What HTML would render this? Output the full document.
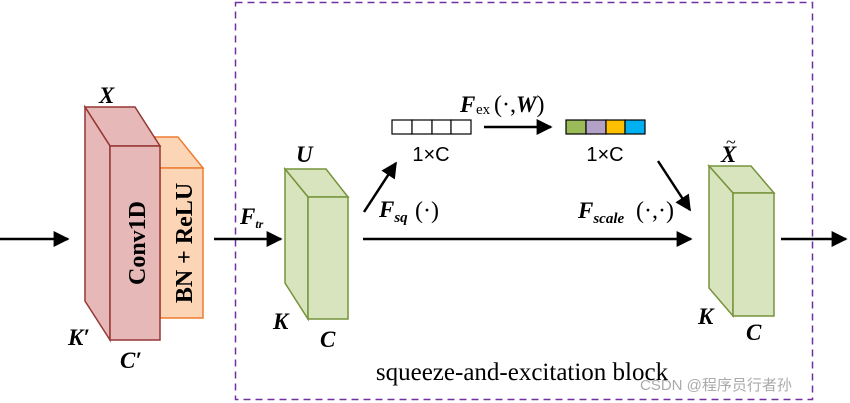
<!DOCTYPE html>
<html><head><meta charset="utf-8"><style>html,body{margin:0;padding:0;background:#fff}svg{display:block}</style></head>
<body>
<svg width="850" height="403" viewBox="0 0 850 403" xmlns="http://www.w3.org/2000/svg" font-family="Liberation Serif, serif">
<defs>
<marker id="b" viewBox="0 0 10 10" markerWidth="18" markerHeight="16" refX="9" refY="5" orient="auto" markerUnits="userSpaceOnUse"><path d="M0,0 L10,5 L0,10 Z" fill="#000"/></marker></defs>
<rect x="235.5" y="2.5" width="577" height="397" fill="none" stroke="#7030a0" stroke-width="1.5" stroke-dasharray="7,5"/>
<polygon points="155,137 178,137 203,168 160,168" fill="#fbd5b5" stroke="#ed7d31" stroke-width="1.5"/>
<rect x="160" y="168" width="43" height="150" fill="#fbd5b5" stroke="#ed7d31" stroke-width="1.5"/>
<polygon points="85,107 135,107 160,146 110,146" fill="#e6b8b7" stroke="#953735" stroke-width="1.5"/>
<polygon points="85,107 110,146 110,340 85,301" fill="#e6b8b7" stroke="#953735" stroke-width="1.5"/>
<rect x="110" y="146" width="50" height="194" fill="#e6b8b7" stroke="#953735" stroke-width="1.5"/>
<text transform="translate(145,243) rotate(-90)" text-anchor="middle" font-size="24" font-weight="bold">Conv1D</text>
<text transform="translate(192,243) rotate(-90)" text-anchor="middle" font-size="24" font-weight="bold">BN + ReLU</text>
<polygon points="285,169 326,169 348,197 308,197" fill="#d7e4bd" stroke="#77933c" stroke-width="1.5"/>
<polygon points="285,169 308,197 308,319 285,283" fill="#d7e4bd" stroke="#77933c" stroke-width="1.5"/>
<rect x="308" y="197" width="40" height="122" fill="#d7e4bd" stroke="#77933c" stroke-width="1.5"/>
<polygon points="709,166 751,166 774,193 733,193" fill="#d7e4bd" stroke="#77933c" stroke-width="1.5"/>
<polygon points="709,166 733,193 733,316 709,288" fill="#d7e4bd" stroke="#77933c" stroke-width="1.5"/>
<rect x="733" y="193" width="41" height="123" fill="#d7e4bd" stroke="#77933c" stroke-width="1.5"/>
<g stroke="#000" stroke-width="1.2">
<rect x="392" y="120" width="20" height="14" fill="#fff"/><rect x="412" y="120" width="20" height="14" fill="#fff"/><rect x="432" y="120" width="19" height="14" fill="#fff"/><rect x="451" y="120" width="20" height="14" fill="#fff"/>
<rect x="566" y="120" width="20" height="14" fill="#9bbb59"/><rect x="586" y="120" width="20" height="14" fill="#b3a2c7"/><rect x="606" y="120" width="19" height="14" fill="#ffc000"/><rect x="625" y="120" width="20" height="14" fill="#00b0f0"/>
</g>
<text x="431" y="161" text-anchor="middle" font-family="Liberation Sans, sans-serif" font-size="20">1×C</text>
<text x="605" y="161" text-anchor="middle" font-family="Liberation Sans, sans-serif" font-size="20">1×C</text>
<g stroke="#000" stroke-width="2.5" fill="none">
<line x1="0" y1="239" x2="68" y2="239" marker-end="url(#b)"/>
<line x1="214" y1="239" x2="281" y2="239" marker-end="url(#b)"/>
<line x1="363" y1="239" x2="691" y2="239" marker-end="url(#b)"/>
<line x1="781" y1="239" x2="846" y2="239" marker-end="url(#b)"/>
<line x1="484" y1="127" x2="551" y2="127" marker-end="url(#b)"/>
<line x1="364" y1="212" x2="396" y2="163" marker-end="url(#b)"/>
<line x1="658" y1="161" x2="690" y2="210" marker-end="url(#b)"/>
</g>
<g font-weight="bold" font-style="italic" font-size="23">
<text x="99" y="103">X</text>
<text x="68" y="345">K′</text>
<text x="120" y="368">C′</text>
<text x="296" y="162">U</text>
<text x="273" y="329">K</text>
<text x="320" y="347">C</text>
<text x="721" y="162">X</text>
<text x="698" y="324">K</text>
<text x="746" y="340">C</text>
<text x="240" y="224">F<tspan font-size="12" dy="4">tr</tspan></text>
<text x="379" y="217">F<tspan font-size="15" dy="5">sq</tspan></text>
<text x="460" y="112">F</text>
<text x="578" y="218">F<tspan font-size="15" dy="5">scale</tspan></text>
</g>
<text x="726" y="148" font-size="18">~</text>
<text x="415" y="218" font-size="24">(·)</text>
<text x="636" y="218" font-size="24">(·,·)</text>
<text x="476" y="114" font-size="15">ex</text>
<text x="494" y="112" font-size="24">(·,<tspan font-style="italic" font-weight="bold" font-size="23">W</tspan>)</text>
<text x="522" y="380" text-anchor="middle" font-size="25">squeeze-and-excitation block</text>
<text x="640" y="390" font-family="Liberation Sans, 'Noto Sans CJK SC', sans-serif" font-size="15" fill="#aaa">CSDN @程序员行者孙</text>
</svg>
</body></html>
